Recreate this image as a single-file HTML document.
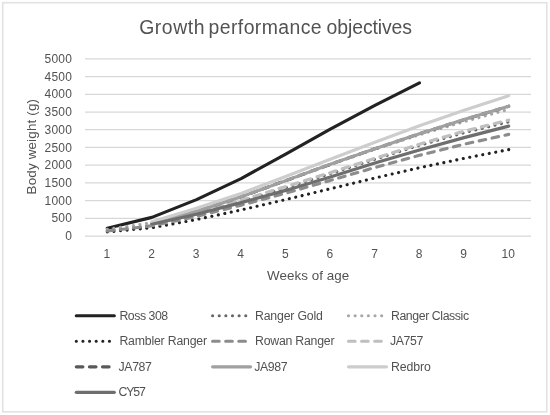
<!DOCTYPE html>
<html lang="en"><head><meta charset="utf-8"><title>Growth performance objectives</title>
<style>html,body{margin:0;padding:0;background:#fff;}body{width:550px;height:415px;overflow:hidden;}svg{display:block;}text{font-family:"Liberation Sans",sans-serif;fill:#525252;}</style></head><body>
<svg width="550" height="415" viewBox="0 0 550 415">
<rect x="0" y="0" width="550" height="415" fill="#ffffff"/>
<rect x="2.7" y="2.7" width="544.1" height="409.1" fill="none" stroke="#e2e2e2" stroke-width="1.6"/>
<text y="33.7" font-size="19.4"><tspan x="139.2" textLength="65.3" lengthAdjust="spacing">Growth</tspan> <tspan x="208.6" textLength="113.0" lengthAdjust="spacing">performance</tspan> <tspan x="326.6" textLength="85.4" lengthAdjust="spacing">objectives</tspan></text>
<g stroke="#d8d8d8" stroke-width="1.25">
<line x1="85.0" y1="236.15" x2="531.0" y2="236.15"/>
<line x1="85.0" y1="218.41" x2="531.0" y2="218.41"/>
<line x1="85.0" y1="200.68" x2="531.0" y2="200.68"/>
<line x1="85.0" y1="182.94" x2="531.0" y2="182.94"/>
<line x1="85.0" y1="165.21" x2="531.0" y2="165.21"/>
<line x1="85.0" y1="147.47" x2="531.0" y2="147.47"/>
<line x1="85.0" y1="129.74" x2="531.0" y2="129.74"/>
<line x1="85.0" y1="112.00" x2="531.0" y2="112.00"/>
<line x1="85.0" y1="94.27" x2="531.0" y2="94.27"/>
<line x1="85.0" y1="76.53" x2="531.0" y2="76.53"/>
<line x1="85.0" y1="58.80" x2="531.0" y2="58.80"/>
</g>
<g font-size="12" text-anchor="end">
<text x="71.9" y="240.20">0</text>
<text x="71.9" y="222.47" textLength="20.5" lengthAdjust="spacing">500</text>
<text x="71.9" y="204.73" textLength="27.3" lengthAdjust="spacing">1000</text>
<text x="71.9" y="187.00" textLength="27.3" lengthAdjust="spacing">1500</text>
<text x="71.9" y="169.26" textLength="27.3" lengthAdjust="spacing">2000</text>
<text x="71.9" y="151.53" textLength="27.3" lengthAdjust="spacing">2500</text>
<text x="71.9" y="133.79" textLength="27.3" lengthAdjust="spacing">3000</text>
<text x="71.9" y="116.05" textLength="27.3" lengthAdjust="spacing">3500</text>
<text x="71.9" y="98.32" textLength="27.3" lengthAdjust="spacing">4000</text>
<text x="71.9" y="80.58" textLength="27.3" lengthAdjust="spacing">4500</text>
<text x="71.9" y="62.85" textLength="27.3" lengthAdjust="spacing">5000</text>
</g>
<g font-size="12" text-anchor="middle">
<text x="106.90" y="257.6">1</text>
<text x="151.50" y="257.6">2</text>
<text x="196.10" y="257.6">3</text>
<text x="240.70" y="257.6">4</text>
<text x="285.30" y="257.6">5</text>
<text x="329.90" y="257.6">6</text>
<text x="374.50" y="257.6">7</text>
<text x="419.10" y="257.6">8</text>
<text x="463.70" y="257.6">9</text>
<text x="508.30" y="257.6">10</text>
</g>
<text x="267.1" y="279.9" font-size="13.4" textLength="82.0" lengthAdjust="spacing">Weeks of age</text>
<text transform="translate(36.3 194.4) rotate(-90)" font-size="13.4" textLength="95.4" lengthAdjust="spacing">Body weight (g)</text>
<g fill="none" stroke-width="3.15" stroke-linecap="round" stroke-linejoin="round">
<polyline points="107.30,228.28 151.90,217.38 196.50,199.59 241.10,178.56 285.70,154.01 330.30,129.14 374.90,105.41 419.50,82.92" stroke="#222222"/>
<polyline points="107.30,230.59 151.90,225.63 196.50,214.65 241.10,201.54 285.70,187.80 330.30,173.63 374.90,159.29 419.50,145.33 464.10,132.72 508.70,121.85" stroke="#666666" stroke-dasharray="0.01 6.5883"/>
<polyline points="107.30,229.35 151.90,222.72 196.50,211.46 241.10,196.83 285.70,180.82 330.30,164.71 374.90,149.19 419.50,134.67 464.10,121.67 508.70,109.38" stroke="#a6a6a6" stroke-dasharray="0.01 6.5802"/>
<polyline points="107.30,231.93 151.90,227.75 196.50,219.54 241.10,209.97 285.70,199.59 330.30,188.79 374.90,177.99 419.50,167.72 464.10,158.33 508.70,149.65" stroke="#222222" stroke-dasharray="0.01 6.6047"/>
<polyline points="107.30,231.05 151.90,225.81 196.50,216.42 241.10,205.16 285.70,193.22 330.30,180.40 374.90,167.54 419.50,155.32 464.10,144.23 508.70,134.39" stroke="#8c8c8c" stroke-dasharray="6.6 6.6114"/>
<polyline points="151.90,224.57 196.50,213.59 241.10,200.30 285.70,186.60 330.30,172.68 374.90,158.26 419.50,144.16 464.10,131.20 508.70,120.08" stroke="#bfbfbf" stroke-dasharray="6.6 6.6235"/>
<polyline points="151.90,223.50 196.50,211.46 241.10,196.83 285.70,180.64 330.30,164.35 374.90,148.77 419.50,133.71 464.10,119.62 508.70,106.23" stroke="#595959" stroke-dasharray="6.6 6.2990"/>
<polyline points="151.90,223.50 196.50,211.46 241.10,196.83 285.70,180.64 330.30,164.35 374.90,148.77 419.50,133.71 464.10,119.62 508.70,106.23" stroke="#a0a0a0"/>
<polyline points="151.90,221.73 196.50,208.27 241.10,193.40 285.70,176.57 330.30,159.22 374.90,142.21 419.50,125.81 464.10,110.34 508.70,95.64" stroke="#cdcdcd"/>
<polyline points="151.90,224.21 196.50,214.29 241.10,202.61 285.70,190.39 330.30,176.93 374.90,163.11 419.50,149.90 464.10,137.61 508.70,126.10" stroke="#6e6e6e"/>
</g>
<g fill="none" stroke-width="3.15" stroke-linecap="round">
<line x1="76.30" y1="315.70" x2="114.30" y2="315.70" stroke="#222222"/>
<line x1="212.60" y1="315.70" x2="250.60" y2="315.70" stroke="#666666" stroke-dasharray="0.01 6.6200"/>
<line x1="348.50" y1="315.70" x2="386.50" y2="315.70" stroke="#a6a6a6" stroke-dasharray="0.01 6.6200"/>
<line x1="76.30" y1="341.25" x2="114.30" y2="341.25" stroke="#222222" stroke-dasharray="0.01 6.6200"/>
<line x1="212.60" y1="341.25" x2="250.60" y2="341.25" stroke="#8c8c8c" stroke-dasharray="6.6 6.5000"/>
<line x1="348.50" y1="341.25" x2="386.50" y2="341.25" stroke="#bfbfbf" stroke-dasharray="6.6 6.5000"/>
<line x1="76.30" y1="366.80" x2="114.30" y2="366.80" stroke="#595959" stroke-dasharray="6.6 6.5000"/>
<line x1="212.60" y1="366.80" x2="250.60" y2="366.80" stroke="#a0a0a0"/>
<line x1="348.50" y1="366.80" x2="386.50" y2="366.80" stroke="#cdcdcd"/>
<line x1="76.30" y1="392.35" x2="114.30" y2="392.35" stroke="#6e6e6e"/>
</g>
<g font-size="12.3">
<text x="119.40" y="319.50" textLength="48.7" lengthAdjust="spacing">Ross 308</text>
<text x="255.00" y="319.50" textLength="67.9" lengthAdjust="spacing">Ranger Gold</text>
<text x="390.90" y="319.50" textLength="78.2" lengthAdjust="spacing">Ranger Classic</text>
<text x="119.40" y="345.05" textLength="87.7" lengthAdjust="spacing">Rambler Ranger</text>
<text x="255.00" y="345.05" textLength="79.5" lengthAdjust="spacing">Rowan Ranger</text>
<text x="390.10" y="345.05" textLength="33.2" lengthAdjust="spacing">JA757</text>
<text x="118.60" y="370.60" textLength="33.3" lengthAdjust="spacing">JA787</text>
<text x="254.20" y="370.60" textLength="33.3" lengthAdjust="spacing">JA987</text>
<text x="390.90" y="370.60" textLength="40.0" lengthAdjust="spacing">Redbro</text>
<text x="118.60" y="396.15" textLength="27.3" lengthAdjust="spacing">CY57</text>
</g>
</svg></body></html>
